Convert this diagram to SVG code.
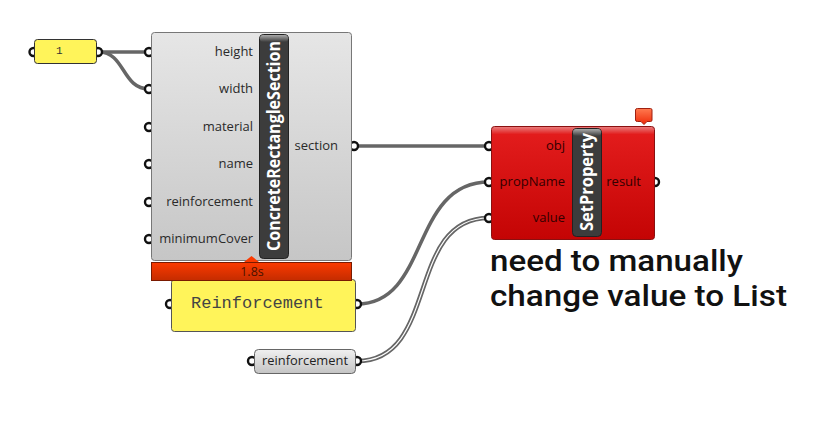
<svg xmlns="http://www.w3.org/2000/svg" width="823" height="434" viewBox="0 0 823 434">
<style>
.t{font-family:"Open Sans","Noto Sans",sans-serif;font-size:13px;fill:#2a2a2a;text-anchor:end}
.w{stroke:#666;stroke-width:3.5;fill:none}
.wb{stroke:#666;stroke-width:4.6;fill:none}
.wi{stroke:#fff;stroke-width:1.2;fill:none}
.p{fill:#fff;stroke:#111;stroke-width:2.4}
.cap{fill:#3c3c3c;stroke:#222;stroke-width:1}
.cl{font-family:"Open Sans","Noto Sans",sans-serif;font-weight:700;font-size:17px;fill:#fff;text-anchor:middle}
</style>
<defs>
<linearGradient id="g" x1="0" y1="0" x2="0" y2="1"><stop offset="0" stop-color="#e6e6e6"/><stop offset="1" stop-color="#c6c6c6"/></linearGradient>
<linearGradient id="r" x1="0" y1="0" x2="0" y2="1"><stop offset="0" stop-color="#ea8080"/><stop offset=".07" stop-color="#e21c1c"/><stop offset="1" stop-color="#c40404"/></linearGradient>
<linearGradient id="o" x1="0" y1="0" x2="0" y2="1"><stop offset="0" stop-color="#fb3a00"/><stop offset="1" stop-color="#c42c00"/></linearGradient>
<linearGradient id="s" x1="0" y1="0" x2="0" y2="1"><stop offset="0" stop-color="#f0f0f0"/><stop offset="1" stop-color="#c4c4c4"/></linearGradient>
<linearGradient id="b" x1="0" y1="0" x2="0" y2="1"><stop offset="0" stop-color="#ff7a50"/><stop offset="1" stop-color="#ee2a08"/></linearGradient>
<linearGradient id="h" x1="0" y1="0" x2="0" y2="1"><stop offset="0" stop-color="#aaa"/><stop offset="1" stop-color="#3c3c3c"/></linearGradient>
</defs>
<g id="connectors">
<path class="w" d="M99 52H149"/>
<path class="w" d="M99 52C125 52 122 89 149 89"/>
<path class="w" d="M355 146H489"/>
<path class="w" d="M357 304C430 304 410 182 489 182"/>
<path class="wb" d="M357 361C440 361 405 218 489 218"/>
<path class="wi" d="M357 361C440 361 405 218 489 218"/>
</g>
<g id="node-number">
<circle class="p" cx="33.500" cy="52" r="4"/><circle class="p" cx="98" cy="52" r="4"/>
<rect x="34.500" y="39.500" width="62" height="24" rx="3" fill="#fff45a" stroke="#333"/>
<text x="56" y="54" style="font-family:'Liberation Mono',monospace;font-size:11px;fill:#333">1</text>
</g>
<g id="node-section">
<circle class="p" cx="149" cy="52" r="4"/><circle class="p" cx="149" cy="89" r="4"/><circle class="p" cx="149" cy="127" r="4"/><circle class="p" cx="149" cy="164" r="4"/><circle class="p" cx="149" cy="202" r="4"/><circle class="p" cx="149" cy="239" r="4"/><circle class="p" cx="354" cy="146" r="4"/>
<rect x="151.500" y="32.500" width="200" height="228" rx="3" fill="url(#g)" stroke="#777"/>
<rect x="259.500" y="34.500" width="29" height="224" rx="4" class="cap"/>
<rect x="260" y="35" width="28" height="7" rx="3" fill="url(#h)"/>
<text class="t" x="253" y="56">height</text><text class="t" x="253" y="93">width</text><text class="t" x="253" y="131">material</text><text class="t" x="253" y="168">name</text><text class="t" x="253" y="206">reinforcement</text><text class="t" x="253" y="243">minimumCover</text>
<text class="t" x="338" y="150">section</text>
<text class="cl" transform="translate(279.500 146) rotate(-90)" textLength="210" lengthAdjust="spacingAndGlyphs">ConcreteRectangleSection</text>
</g>
<g id="node-reinforcement-panel">
<circle class="p" cx="170" cy="304" r="4"/><circle class="p" cx="357" cy="304" r="4"/>
<rect x="171.500" y="279.500" width="184" height="52" rx="3" fill="#fff45a" stroke="#555"/>
<text x="191" y="308" style="font-family:'Liberation Mono',monospace;font-size:17px;fill:#444">Reinforcement</text>
</g>
<g id="node-timer">
<rect x="151.500" y="262.500" width="200" height="18" fill="url(#o)" stroke="#7a1a00"/>
<path d="M244 262L251.500 256L259 262Z" fill="#fb3a00"/>
<text x="252" y="275.500" style="font-family:'Open Sans','Noto Sans',sans-serif;font-size:12.5px;fill:#4a1200;text-anchor:middle">1.8s</text>
</g>
<g id="node-string">
<circle class="p" cx="252" cy="361" r="4"/><circle class="p" cx="357" cy="361" r="4"/>
<rect x="254.500" y="349.500" width="101" height="24" rx="4" fill="url(#s)" stroke="#666"/>
<text x="305" y="365" style="font-family:'Open Sans','Noto Sans',sans-serif;font-size:12.5px;fill:#222;text-anchor:middle" textLength="86" lengthAdjust="spacingAndGlyphs">reinforcement</text>
</g>
<g id="node-setproperty">
<circle class="p" cx="489" cy="146" r="4"/><circle class="p" cx="489" cy="182" r="4"/><circle class="p" cx="489" cy="218" r="4"/><circle class="p" cx="655" cy="182" r="4"/>
<rect x="491.500" y="126.500" width="163" height="113" rx="3" fill="url(#r)" stroke="#8a1010"/>
<rect x="572.500" y="128.500" width="29" height="108" rx="4" class="cap"/>
<rect x="573" y="129" width="28" height="7" rx="3" fill="url(#h)"/>
<text class="t" x="565" y="150" style="fill:#300">obj</text><text class="t" x="565" y="186" style="fill:#300">propName</text><text class="t" x="565" y="222" style="fill:#300">value</text><text class="t" x="641" y="186" style="fill:#300">result</text>
<text class="cl" transform="translate(592.500 182) rotate(-90)" textLength="98" lengthAdjust="spacingAndGlyphs">SetProperty</text>
<path d="M637.500 108.500H650.500Q652 108.500 652 110V120Q652 121.500 650.500 121.500H647L644 124.500L641 121.500H637.500Q635.500 121.500 635.500 120V110Q635.500 108.500 637.500 108.500Z" fill="url(#b)" stroke="#a02010"/>
</g>
<g id="annotation" style="font-family:Roboto,'Noto Sans',sans-serif;font-weight:500;font-size:29px;fill:#111">
<text x="490" y="271" textLength="253" lengthAdjust="spacingAndGlyphs">need to manually</text>
<text x="490" y="306" textLength="297" lengthAdjust="spacingAndGlyphs">change value to List</text>
</g>
</svg>
